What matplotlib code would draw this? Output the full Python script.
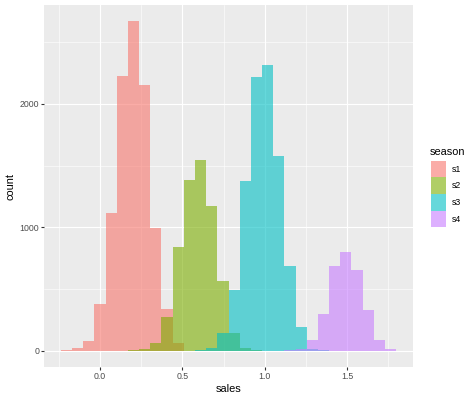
import numpy as np
import matplotlib
matplotlib.use("Agg")
import matplotlib.pyplot as plt
from matplotlib.patches import Rectangle

# histogram bins shared by all seasons (30 bins)
bin_start = -0.237
bin_width = 0.0678

seasons = ["s1", "s2", "s3", "s4"]
colors = ["#F8766D", "#7CAE00", "#00BFC4", "#C77CFF"]

# counts per bin, bin index 0..29
s1_counts = [4, 18, 81, 376, 1114, 2222, 2668, 2155, 993, 338, 58, 0, 0, 0, 0,
             0, 0, 0, 0, 0, 0, 0, 0, 0, 0, 0, 0, 0, 0, 0]
s2_counts = [0, 0, 0, 0, 0, 0, 3, 14, 60, 275, 843, 1385, 1541, 1168, 560,
             140, 20, 3, 0, 0, 0, 0, 0, 0, 0, 0, 0, 0, 0, 0]
s3_counts = [0, 0, 0, 0, 0, 0, 0, 0, 0, 0, 0, 0, 3, 20, 140,
             493, 1376, 2214, 2317, 1580, 689, 195, 15, 2, 0, 0, 0, 0, 0, 0]
s4_counts = [0, 0, 0, 0, 0, 0, 0, 0, 0, 0, 0, 0, 0, 0, 0,
             0, 0, 0, 0, 0, 2, 15, 86, 295, 689, 798, 652, 330, 86, 14]

x_ticks = [0.0, 0.5, 1.0, 1.5]
x_ticklabels = ["0.0", "0.5", "1.0", "1.5"]
y_ticks = [0, 1000, 2000]
y_ticklabels = ["0", "1000", "2000"]

plt.rcParams["font.family"] = ["Liberation Sans", "DejaVu Sans"]

W, H = 474, 399
fig = plt.figure(figsize=(W / 100, H / 100), dpi=100)
ax = fig.add_axes([44 / W, 1 - 367 / H, (413 - 44) / W, (367 - 5) / H])
ax.set_facecolor("#EBEBEB")

edges = bin_start + bin_width * np.arange(len(s1_counts))
for name, col, counts in zip(seasons, colors, [s1_counts, s2_counts, s3_counts, s4_counts]):
    ax.bar(edges, counts, width=bin_width, align="edge", color=col, alpha=0.6,
           linewidth=0, zorder=3)

ax.set_xlim(-0.339, 1.899)
ax.set_ylim(-133, 2801)

ax.set_xticks(x_ticks)
ax.set_xticklabels(x_ticklabels)
ax.set_yticks(y_ticks)
ax.set_yticklabels(y_ticklabels)
ax.set_xticks([-0.25, 0.25, 0.75, 1.25, 1.75], minor=True)
ax.set_yticks([500, 1500, 2500], minor=True)
ax.grid(which="major", color="white", linewidth=0.8, zorder=0)
ax.grid(which="minor", color="white", linewidth=0.4, zorder=0)
ax.set_axisbelow(True)
ax.tick_params(which="major", length=2, width=0.8, color="#333333",
               labelsize=6.3, labelcolor="#4D4D4D", pad=1.5)
ax.tick_params(which="minor", length=0)
for sp in ax.spines.values():
    sp.set_visible(False)

ax.set_xlabel("sales", fontsize=7.9, labelpad=2)
ax.set_ylabel("count", fontsize=7.9, labelpad=3)

# legend drawn by hand: square keys stacked with no gap, like ggplot
key_left, key_w, key_top, key_h = 430.7, 15.3, 160.7, 16.67
fig.text(430 / W, 1 - 151.7 / H, "season", fontsize=7.9, ha="left", va="center")
for i, (name, col) in enumerate(zip(seasons, colors)):
    y0 = key_top + i * key_h
    fig.patches.append(Rectangle((key_left / W, 1 - (y0 + key_h) / H), key_w / W, key_h / H,
                                 transform=fig.transFigure, facecolor=col, alpha=0.6,
                                 linewidth=0))
    fig.text(452.3 / W, 1 - (y0 + key_h / 2) / H, name, fontsize=6.3,
             ha="left", va="center")

fig.savefig("out.png", dpi=100)
